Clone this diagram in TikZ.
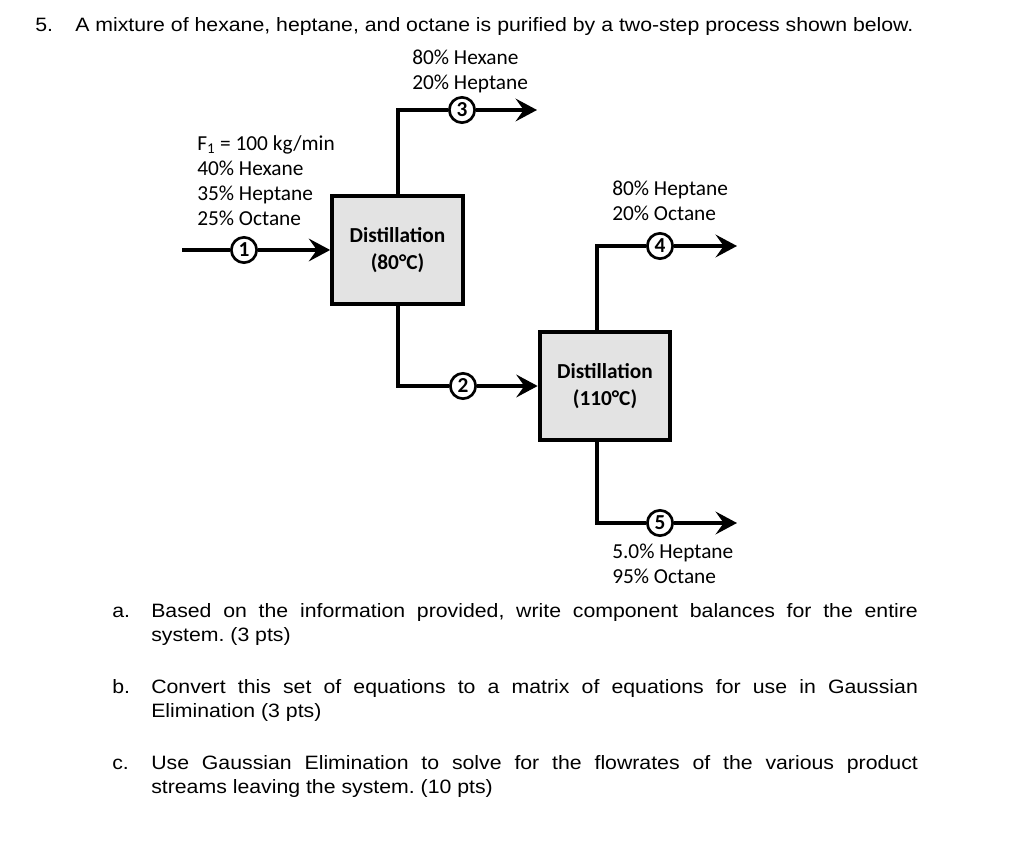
\documentclass[tikz,border=0pt]{standalone}
\usepackage{fontspec}
\setmainfont{Liberation Sans}
\newfontfamily\qfont[FakeStretch=1.1]{Liberation Sans}
\newfontfamily\calfont{Carlito}
\usetikzlibrary{arrows.meta}
\frenchspacing
\tikzset{
  unit/.style={draw, line width=3pt, fill=gray!22, minimum width=98pt, minimum height=81pt,
    align=center, font=\calfont\bfseries\fontsize{16}{20}\selectfont},
  stream/.style={line width=3pt},
  feed/.style={stream, -{Stealth[length=16pt,width=17pt,inset=6pt]}},
  tag/.style={circle, draw, line width=2pt, fill=white, minimum size=19pt, inner sep=0pt,
    font=\calfont\bfseries\fontsize{16}{16}\selectfont},
  comp/.style={anchor=north west, inner sep=0pt, align=left, font=\calfont\fontsize{16}{18.75}\selectfont},
  qtext/.style={anchor=north west, inner sep=0pt, font=\qfont\fontsize{14.5}{18}\selectfont},
  qlabel/.style={qtext, anchor=base west},
}
\begin{document}
\begin{tikzpicture}[x=0.75pt,y=-0.75pt]
  \useasboundingbox (0,0) rectangle (1024,852);
  %% question
  \node[qlabel] (qnum) at (35,32) {5.};
  \node[qlabel] (qline) at (75,32) {A mixture of hexane, heptane, and octane is purified by a two-step process shown below.};
  %% units
  \node[unit] (dist1) at (397.5,250) {Distillation\\(80°C)};
  \node[unit] (dist2) at (605,386) {Distillation\\(110°C)};
  %% stream 1
  \coordinate (in1) at (182,250);
  \node[tag] (s1) at (244,250) {1};
  \draw[stream] (in1) -- (s1);
  \draw[feed] (s1) -- (dist1);
  \node[comp] (comp1) at (197,135) {F\textsubscript{1} = 100 kg/min\\40\% Hexane\\35\% Heptane\\25\% Octane};
  %% stream 3
  \node[tag] (s3) at (462,110) {3};
  \coordinate (out3) at (537,110);
  \draw[stream] (dist1.north) |- (s3);
  \draw[feed] (s3) -- (out3);
  \node[comp] (comp3) at (412,50) {80\% Hexane\\20\% Heptane};
  %% stream 2
  \node[tag] (s2) at (463,386) {2};
  \draw[stream] (dist1.south) |- (s2);
  \draw[feed] (s2) -- (dist2);
  %% stream 4
  \coordinate (c4) at (597,246);
  \node[tag] (s4) at (660,246) {4};
  \coordinate (out4) at (737,246);
  \draw[stream] (dist2.north -| c4) -- (c4) -- (s4);
  \draw[feed] (s4) -- (out4);
  \node[comp] (comp4) at (612,181) {80\% Heptane\\20\% Octane};
  %% stream 5
  \coordinate (c5) at (597,523);
  \node[tag] (s5) at (660,523) {5};
  \coordinate (out5) at (737,523);
  \draw[stream] (dist2.south -| c5) -- (c5) -- (s5);
  \draw[feed] (s5) -- (out5);
  \node[comp] (comp5) at (612,544) {5.0\% Heptane\\95\% Octane};
  %% parts
  \node[qlabel] (lbla) at (112,617) {a.};
  \node[qtext, text width=575pt, align=justify] (parta) at (151,603) {Based on the information provided, write component balances for the entire\linebreak system. (3 pts)};
  \node[qlabel] (lblb) at (112,693) {b.};
  \node[qtext, text width=575pt, align=justify] (partb) at (151,679) {Convert this set of equations to a matrix of equations for use in Gaussian\linebreak Elimination (3 pts)};
  \node[qlabel] (lblc) at (112,769) {c.};
  \node[qtext, text width=575pt, align=justify] (partc) at (151,755) {Use Gaussian Elimination to solve for the flowrates of the various product\linebreak streams leaving the system. (10 pts)};
\end{tikzpicture}
\end{document}
